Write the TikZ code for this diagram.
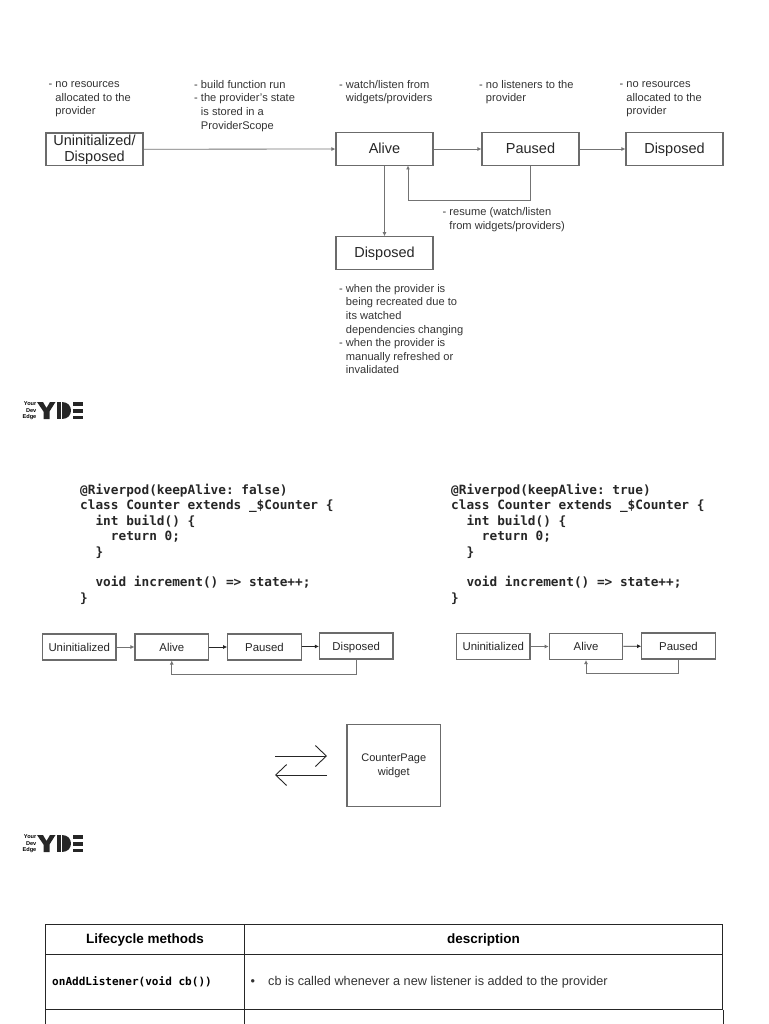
\documentclass[tikz,border=0pt]{standalone}
\usepackage{fontspec}
\setmainfont{Liberation Sans}
\setmonofont{DejaVu Sans Mono}
\usetikzlibrary{arrows.meta}
\definecolor{boxline}{gray}{0.42}
\definecolor{noteink}{gray}{0.2}
\newcommand{\hang}{\phantom{- }}
\tikzset{
    statebig/.style={rectangle, draw=boxline, line width=1.1pt, fill=white, inner sep=0pt, minimum width=97pt, minimum height=32.5pt, align=center, font=\fontsize{14.5}{16.5}\selectfont, text=black!85, execute at begin node=\rule[-5pt]{0pt}{19pt}, execute at end node=\strut},
    statetext/.style={inner sep=0pt, align=center, font=\fontsize{14.5}{16.5}\selectfont, text=black!85},
    statesmall/.style={rectangle, draw=boxline, line width=1.1pt, fill=white, inner sep=0pt, minimum width=73.5pt, minimum height=26pt, font=\fontsize{11.4}{13}\selectfont, text=black!85, execute at begin node=\rule[-4pt]{0pt}{16pt}},
    note/.style={inner sep=0pt, anchor=north west, align=left, font=\fontsize{11.1}{13.6}\selectfont, text=noteink, execute at begin node=\rule{0pt}{10pt}},
    codeblock/.style={inner sep=0pt, anchor=north west, align=left, font=\fontsize{12.75}{15.4}\ttfamily\bfseries, text=black!85, execute at begin node=\rule{0pt}{10pt}},
    link/.style={draw=black!55, line width=0.8pt, -{Latex[length=4pt,width=4pt]}},
    swaparrow/.style={draw=black!85, line width=0.9pt, -{Straight Barb[length=11pt,width=21pt]}},
    cell/.style={rectangle, draw=black!85, line width=1pt, inner sep=0pt},
    logobar/.style={fill=black!85, draw=none}
}
\begin{document}
\begin{tikzpicture}[x=1pt, y=1pt]
    \useasboundingbox (0,0) rectangle (768,-1024);
    % lifecycle, top
    \node (uninit) [statebig] at (94.5, -149.25) {};
    \node (uninittext) [statetext] at (94.5, -149.75) {Uninitialized/\\Disposed};
    \node (alive) [statebig] at (384.5, -149) {Alive};
    \node (paused) [statebig] at (530.5, -149) {Paused};
    \node (gone) [statebig] at (674.5, -149) {Disposed};
    \node (recreated) [statebig] at (384.5, -253) {Disposed};
    \coordinate (resumecorner) at (408, -200.5);
    \coordinate (resumeend) at (408, -165.5);
    \coordinate (pausedturn) at (530.5, -200.5);
    \draw [link] (uninit) to (alive);
    \draw [link] (alive) to (paused);
    \draw [link] (paused) to (gone);
    \draw [link] (alive) to (recreated);
    \draw [link] (paused.south) -- (pausedturn) -- (resumecorner) -- (resumeend);
    \node (note1) [note] at (48.5, -81.5) {- no resources\\\hang allocated to the\\\hang provider};
    \node (note2) [note] at (194, -80) {- build function run\\- the provider's state\\\hang is stored in a\\\hang ProviderScope};
    \node (note3) [note] at (339, -80) {- watch/listen from\\\hang widgets/providers};
    \node (note4) [note] at (479, -80) {- no listeners to the\\\hang provider};
    \node (note5) [note] at (619.5, -81.5) {- no resources\\\hang allocated to the\\\hang provider};
    \node (note6) [note] at (442.5, -207.5) {- resume (watch/listen\\\hang from widgets/providers)};
    \node (note7) [note] at (339, -284) {- when the provider is\\\hang being recreated due to\\\hang its watched\\\hang dependencies changing\\- when the provider is\\\hang manually refreshed or\\\hang invalidated};
    % logos
    \foreach \name/\ly in {logoa/-402, logob/-835} {
        \begin{scope}[shift={(0,\ly)}]
            \node (\name) [inner sep=0pt, align=right, font=\fontsize{5.6}{6.6}\selectfont\bfseries, anchor=north east] at (36.5, 0.5) {Your\\Dev\\Edge};
            \fill [logobar] (37,0) -- (43,0) -- (46.5,-6) -- (50,0) -- (55.5,0) -- (49.5,-9.5) -- (49.5,-17) -- (43.5,-17) -- (43.5,-9.5) -- cycle;
            \fill [logobar] (56.5,0) rectangle (60.5,-17);
            \fill [logobar] (62,0) .. controls (74,0) and (74,-17) .. (62,-17) -- cycle;
            \fill [logobar] (73,0) rectangle (83,-3.5);
            \fill [logobar] (73,-6.5) rectangle (83,-10.5);
            \fill [logobar] (73,-13.5) rectangle (83,-17);
        \end{scope}
    }
    % keepAlive code
    \node (codeleft) [codeblock] at (80, -484) {@Riverpod(keepAlive: false)\\class Counter extends \_\$Counter \{\\\ \ int build() \{\\\ \ \ \ return 0;\\\ \ \}\\[15.4pt]\ \ void increment() => state++;\\\}};
    \node (coderight) [codeblock] at (451, -484) {@Riverpod(keepAlive: true)\\class Counter extends \_\$Counter \{\\\ \ int build() \{\\\ \ \ \ return 0;\\\ \ \}\\[15.4pt]\ \ void increment() => state++;\\\}};
    % left row
    \node (luninit) [statesmall] at (79.25, -647) {Uninitialized};
    \node (lalive) [statesmall] at (171.75, -647) {Alive};
    \node (lpaused) [statesmall] at (264.5, -647) {Paused};
    \node (ldisposed) [statesmall] at (356.25, -646) {Disposed};
    \coordinate (lturna) at (356.25, -674);
    \coordinate (lturnb) at (171.75, -674);
    \draw [link] (luninit) to (lalive);
    \draw [link, draw=black!85] (lalive) to (lpaused);
    \draw [link, draw=black!85] (lpaused) to (ldisposed);
    \draw [link] (ldisposed.south) -- (lturna) -- (lturnb) -- (lalive.south);
    % right row
    \node (runinit) [statesmall] at (493.25, -646.5) {Uninitialized};
    \node (ralive) [statesmall] at (586, -646.5) {Alive};
    \node (rpaused) [statesmall] at (678.5, -646) {Paused};
    \coordinate (rturna) at (678.5, -673);
    \coordinate (rturnb) at (586, -673);
    \draw [link] (runinit) to (ralive);
    \draw [link, draw=black!85] (ralive) to (rpaused);
    \draw [link] (rpaused.south) -- (rturna) -- (rturnb) -- (ralive.south);
    % widget
    \node (widget) [rectangle, draw=boxline, line width=1.1pt, inner sep=0pt, minimum width=93.5pt, minimum height=82pt, align=center, font=\fontsize{11}{14}\selectfont, text=black!85, execute at begin node=\rule{0pt}{14pt}] at (393.75, -765.75) {CounterPage\\widget};
    \coordinate (swapa) at (275, -756);
    \coordinate (swapb) at (327, -756);
    \coordinate (swapc) at (327, -775);
    \coordinate (swapd) at (275, -775);
    \draw [swaparrow] (swapa) to (swapb);
    \draw [swaparrow] (swapc) to (swapd);
    % table
    \node (headleft) [cell, minimum width=198.5pt, minimum height=29.5pt, font=\fontsize{13.5}{15}\selectfont\bfseries] at (145, -939.5) {Lifecycle methods};
    \node (headright) [cell, minimum width=478.5pt, minimum height=29.5pt, font=\fontsize{13.5}{15}\selectfont\bfseries] at (483.5, -939.5) {description};
    \node (rowleft) [cell, minimum width=198.5pt, minimum height=55pt] at (145, -981.75) {};
    \node (rowright) [cell, minimum width=478.5pt, minimum height=55pt] at (483.5, -981.75) {};
    \node (method) [inner sep=0pt, anchor=west, font=\fontsize{11.05}{13}\ttfamily\bfseries] at (52, -982) {onAddListener(void cb())};
    \node (bullet) [inner sep=0pt, anchor=west, font=\fontsize{12.7}{14}\selectfont, text=noteink] at (250.5, -982.5) {•};
    \node (desc) [inner sep=0pt, anchor=west, font=\fontsize{12.7}{14}\selectfont, text=noteink] at (268, -982.5) {cb is called whenever a new listener is added to the provider};
    \coordinate (bottom) at (0, -1024);
    \draw [cell] (rowleft.south west) -- (rowleft.south west |- bottom);
    \draw [cell] (rowleft.south east) -- (rowleft.south east |- bottom);
    \draw [cell] (rowright.south east) -- (rowright.south east |- bottom);
\end{tikzpicture}
\end{document}
